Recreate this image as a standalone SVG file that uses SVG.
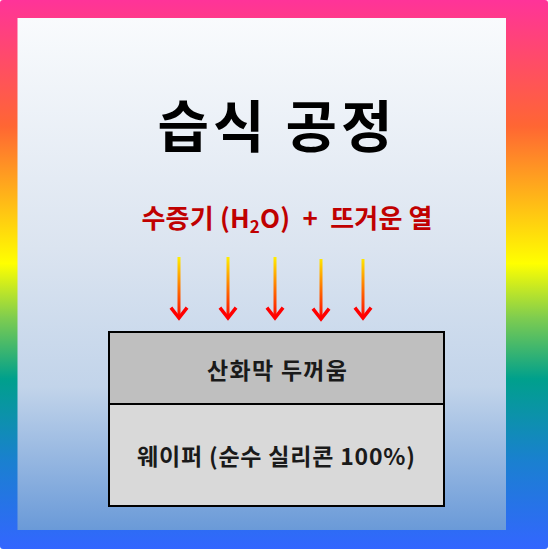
<svg xmlns="http://www.w3.org/2000/svg" width="548" height="549" viewBox="0 0 548 549">
  <defs>
    <linearGradient id="rainbow" x1="0" y1="0" x2="0" y2="1">
      <stop offset="0" stop-color="#ff3399"/>
      <stop offset="0.23" stop-color="#ff6633"/>
      <stop offset="0.48" stop-color="#ffff00"/>
      <stop offset="0.58" stop-color="#7dcc50"/>
      <stop offset="0.69" stop-color="#00a08c"/>
      <stop offset="0.84" stop-color="#1a80d0"/>
      <stop offset="1" stop-color="#3366ff"/>
    </linearGradient>
    <linearGradient id="panel" x1="0" y1="0" x2="0" y2="1">
      <stop offset="0" stop-color="#f9fbfd"/>
      <stop offset="0.45" stop-color="#dbe4f0"/>
      <stop offset="0.72" stop-color="#c2d4ea"/>
      <stop offset="1" stop-color="#6a9ad8"/>
    </linearGradient>
    <linearGradient id="heat" gradientUnits="userSpaceOnUse" x1="0" y1="257" x2="0" y2="320">
      <stop offset="0" stop-color="#ffee00"/>
      <stop offset="0.55" stop-color="#ff6600"/>
      <stop offset="1" stop-color="#ff0000"/>
    </linearGradient>
    <style>
      .title{font-family:"Noto Sans CJK KR","Noto Sans",sans-serif;font-weight:bold;fill:#000;text-anchor:middle}
      .sub{font-family:"Noto Sans CJK KR","Noto Sans",sans-serif;font-weight:bold;fill:#c00000;text-anchor:middle}
      .lbl{font-family:"Noto Sans CJK KR","Noto Sans",sans-serif;font-weight:bold;fill:#1a1a1a;text-anchor:middle}
      .layer{stroke:#000;stroke-width:2}
      .shaft{stroke:url(#heat);stroke-width:3;fill:none}
      .head{stroke:#ff0000;stroke-width:3.5;fill:none;stroke-linecap:square}
    </style>
  </defs>
  <rect x="0" y="0" width="548" height="549" rx="3" fill="url(#rainbow)"/>
  <rect x="17.5" y="18" width="488.5" height="512" fill="url(#panel)"/>

  <g id="title">
    <text class="title" x="275" y="147" font-size="56" textLength="235" lengthAdjust="spacing">습식 공정</text>
  </g>
  <g id="subtitle">
    <text class="sub" x="287" y="228" font-size="26" textLength="291" lengthAdjust="spacing">수증기 (H<tspan font-size="17" dy="5">2</tspan><tspan dy="-5">O)&#160; +&#160; 뜨거운 열</tspan></text>
  </g>

  <g id="connectors">
    <line class="shaft" x1="179" y1="257" x2="179" y2="318"/>
    <polyline class="head" points="172,309 179,318 186,309"/>
    <line class="shaft" x1="228" y1="257" x2="228" y2="318"/>
    <polyline class="head" points="221,309 228,318 235,309"/>
    <line class="shaft" x1="275" y1="257" x2="275" y2="318"/>
    <polyline class="head" points="268,309 275,318 282,309"/>
    <line class="shaft" x1="321" y1="259" x2="321" y2="319"/>
    <polyline class="head" points="314,310 321,319 328,310"/>
    <line class="shaft" x1="363" y1="259" x2="363" y2="318"/>
    <polyline class="head" points="356,309 363,318 370,309"/>
  </g>

  <g id="oxide">
    <rect class="layer" x="109" y="332" width="335" height="72" fill="#bfbfbf"/>
    <text class="lbl" x="277" y="379" font-size="23" textLength="140" lengthAdjust="spacing">산화막 두꺼움</text>
  </g>
  <g id="wafer">
    <rect class="layer" x="109" y="404" width="335" height="102" fill="#d9d9d9"/>
    <text class="lbl" x="276" y="465" font-size="23" textLength="278" lengthAdjust="spacing">웨이퍼 (순수 실리콘 100%)</text>
  </g>
</svg>
